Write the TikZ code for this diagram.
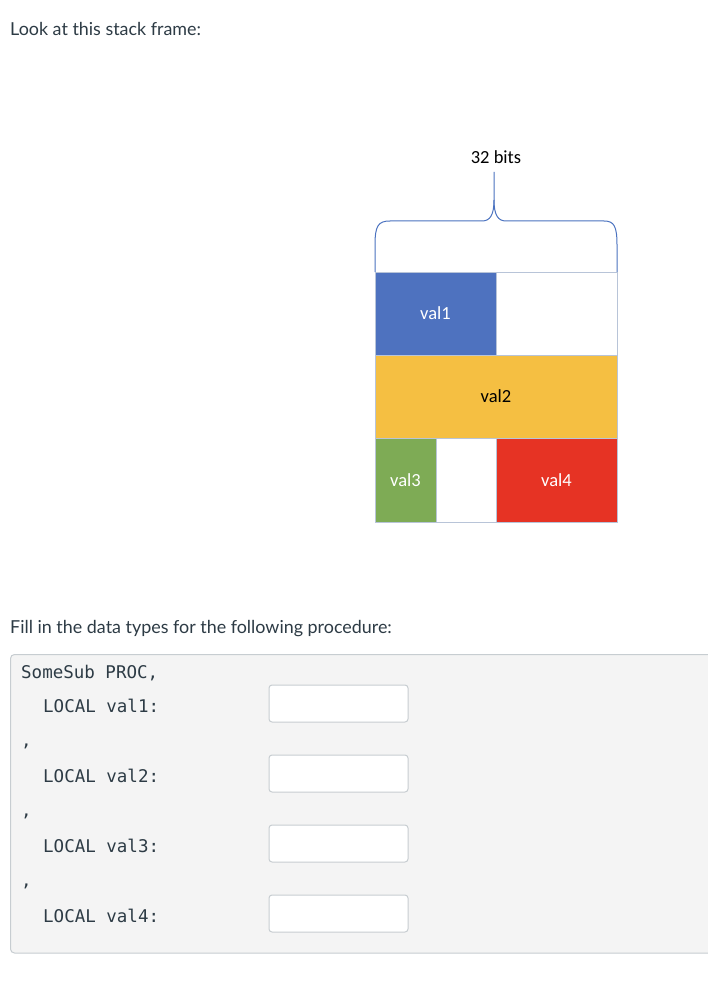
\documentclass[tikz,border=0pt]{standalone}
\usepackage{fontspec}
\setmainfont{Lato}
\newfontfamily\calib{Carlito}
\setmonofont{DejaVu Sans Mono}
\definecolor{txt}{HTML}{2D3B45}
\definecolor{bracecol}{HTML}{4A72C0}
\definecolor{c1}{HTML}{4E72BF}
\definecolor{c2}{HTML}{F5BF42}
\definecolor{c3}{HTML}{7EAB55}
\definecolor{c4}{HTML}{E63324}
\definecolor{panel}{HTML}{F4F4F4}
\definecolor{panelline}{HTML}{C7CDD1}
\definecolor{cellline}{HTML}{B8C4D8}
\begin{document}
\begin{tikzpicture}[x=1pt,y=-1pt,
  cell/.style={draw=cellline,line width=0.6pt,inner sep=0pt,font=\calib\fontsize{18.5}{20}\selectfont},
  lbl/.style={anchor=west,inner sep=0pt,text=txt,font=\fontsize{17.9}{21}\selectfont},
  code/.style={anchor=west,inner sep=0pt,text=txt,font=\ttfamily\fontsize{17.5}{20}\selectfont},
  inbox/.style={draw=panelline,fill=white,rounded corners=3pt,line width=1pt,minimum width=139pt,minimum height=37pt,inner sep=0pt}]
\useasboundingbox (0,0) rectangle (708,992);
\fill[white] (0,0) rectangle (708,992);
\node[lbl] (t1) at (10,29) {Look at this stack frame:};
% brace
\node[inner sep=0pt,font=\calib\fontsize{18.5}{20}\selectfont] (bits) at (496,157) {32 bits};
\coordinate (tip) at (494,172);
\draw[bracecol,line width=1pt] (375,272) -- (375,245) .. controls (375,226) and (378,221) .. (390,221) -- (482,221) .. controls (490,221) and (494,215) .. (494,200) -- (tip);
\draw[bracecol,line width=1pt] (494,200) .. controls (494,215) and (498,221) .. (506,221) -- (604,221) .. controls (614,221) and (617,226) .. (617,245) -- (617,272);
% cells
\node[cell,fill=c1,text=white,minimum width=121pt,minimum height=83pt] (v1) at (435.5,313.5) {val1};
\node[cell,fill=white,minimum width=121pt,minimum height=83pt] (e1) at (556.5,313.5) {};
\node[cell,fill=c2,text=black,minimum width=242pt,minimum height=83pt] (v2) at (496,396.5) {val2};
\node[cell,fill=c3,text=white,minimum width=61pt,minimum height=84pt] (v3) at (405.5,480) {val3};
\node[cell,fill=white,minimum width=60pt,minimum height=84pt] (e3) at (466,480) {};
\node[cell,fill=c4,text=white,minimum width=121pt,minimum height=84pt] (v4) at (556.5,480) {val4};
\node[lbl] (t2) at (10,629) {Fill in the data types for the following procedure:};
% panel
\draw[panelline,fill=panel,line width=1pt,rounded corners=4pt] (10.5,654.5) rectangle (730,953);
\node[code] (c0) at (21,673) {SomeSub PROC,};
\node[code] (c1l) at (43,706) {LOCAL val1:};
\node[code] (k1) at (21,746) {,};
\node[code] (c2l) at (43,776) {LOCAL val2:};
\node[code] (k2) at (21,816) {,};
\node[code] (c3l) at (43,846) {LOCAL val3:};
\node[code] (k3) at (21,886) {,};
\node[code] (c4l) at (43,916) {LOCAL val4:};
\node[inbox] (b1) at (338.5,703.5) {};
\node[inbox] (b2) at (338.5,773.5) {};
\node[inbox] (b3) at (338.5,843.5) {};
\node[inbox] (b4) at (338.5,913.5) {};
\end{tikzpicture}
\end{document}
